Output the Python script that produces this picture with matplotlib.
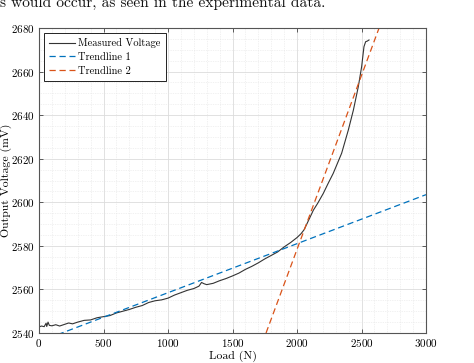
import matplotlib
matplotlib.use("Agg")
import matplotlib.pyplot as plt
from matplotlib.ticker import MultipleLocator

plt.rcParams['font.family'] = 'serif'
plt.rcParams['font.serif'] = ['cmr10', 'DejaVu Serif']
plt.rcParams['mathtext.fontset'] = 'cm'
plt.rcParams['axes.formatter.use_mathtext'] = True

# Measured data (Load N, Voltage mV)
load = [0, 20, 40, 55, 60, 70, 80, 100, 130, 160, 200, 230, 260, 300, 350, 400,
        450, 500, 550, 600, 650, 700, 750, 800, 850, 900, 950, 1000, 1050, 1100,
        1150, 1200, 1240, 1260, 1280, 1300, 1350, 1400, 1450, 1500, 1550, 1600,
        1650, 1700, 1750, 1800, 1850, 1900, 1950, 2000, 2030, 2054, 2080, 2100,
        2127, 2160, 2204, 2240, 2281, 2346, 2398, 2437, 2475, 2501, 2519, 2532,
        2545, 2558]
voltage = [2542.8, 2543.2, 2542.9, 2544.5, 2543.0, 2545.0, 2543.5, 2543.3, 2543.8,
           2543.2, 2544.0, 2544.6, 2544.2, 2545.0, 2545.8, 2546.0, 2547.0, 2547.5,
           2548.0, 2549.2, 2550.0, 2550.8, 2551.8, 2552.6, 2554.0, 2554.8, 2555.2,
           2556.0, 2557.4, 2558.5, 2559.6, 2560.4, 2561.5, 2563.2, 2562.6, 2562.2,
           2562.8, 2564.0, 2565.0, 2566.2, 2567.5, 2569.2, 2570.6, 2572.2, 2574.0,
           2575.6, 2577.2, 2579.5, 2581.5, 2583.8, 2585.5, 2587.3, 2590.5, 2593.0,
           2596.4, 2599.5, 2604.1, 2608.5, 2613.3, 2622.5, 2633.2, 2642.3, 2653.0,
           2662.2, 2671.4, 2673.7, 2674.0, 2674.5]

# Trendlines: endpoints
trend1_x = [0, 3000]
trend1_y = [2536.0, 2603.5]
trend2_x = [1760, 2640]
trend2_y = [2540.0, 2680.6]

xticks = [0, 500, 1000, 1500, 2000, 2500, 3000]
yticks = [2540, 2560, 2580, 2600, 2620, 2640, 2660, 2680]

blue = (0.0, 0.447, 0.741)
orange = (0.85, 0.325, 0.098)

fig = plt.figure(figsize=(4.74, 3.63), dpi=100)
ax = fig.add_axes([39/474, 1-333/363, (426-39)/474, (333-28)/363])

ax.plot(load, voltage, color='#333333', lw=0.8, label='Measured Voltage')
ax.plot(trend1_x, trend1_y, color=blue, lw=0.9, ls=(0, (5, 3)), label='Trendline 1')
ax.plot(trend2_x, trend2_y, color=orange, lw=0.9, ls=(0, (5, 3)), label='Trendline 2')

ax.set_xlim(0, 3000)
ax.set_ylim(2540, 2680)
ax.set_xticks(xticks)
ax.set_yticks(yticks)
ax.xaxis.set_minor_locator(MultipleLocator(100))
ax.yaxis.set_minor_locator(MultipleLocator(5))
ax.grid(which='major', color='#dcdcdc', lw=0.6)
ax.grid(which='minor', color='#e4e4e4', lw=0.5, ls=(0, (1, 1.5)))
ax.set_axisbelow(True)
ax.tick_params(which='major', direction='in', top=True, right=True, length=3,
               width=0.6, color='#444444', labelsize=8, pad=3)
ax.tick_params(which='minor', length=0, top=True, right=True)
for s in ax.spines.values():
    s.set_color('#555555')
    s.set_linewidth(0.8)

ax.set_xlabel('Load (N)', fontsize=8.5, labelpad=1)
ax.set_ylabel('Output Voltage (mV)', fontsize=8.5)
ax.yaxis.set_label_coords(-27/387, 0.5)

leg = ax.legend(loc='upper left', fontsize=7.5, frameon=True, fancybox=False,
                edgecolor='#222222', framealpha=1, borderpad=0.55,
                handlelength=2.5, handletextpad=0.25, labelspacing=0.4,
                borderaxespad=0.45)
leg.get_frame().set_linewidth(0.7)

fig.text(0.0, 1-7/363, 's would occur, as seen in the experimental data.',
         fontsize=11.1, va='baseline', ha='left', color='#111111')

fig.savefig('out.png', dpi=100)
